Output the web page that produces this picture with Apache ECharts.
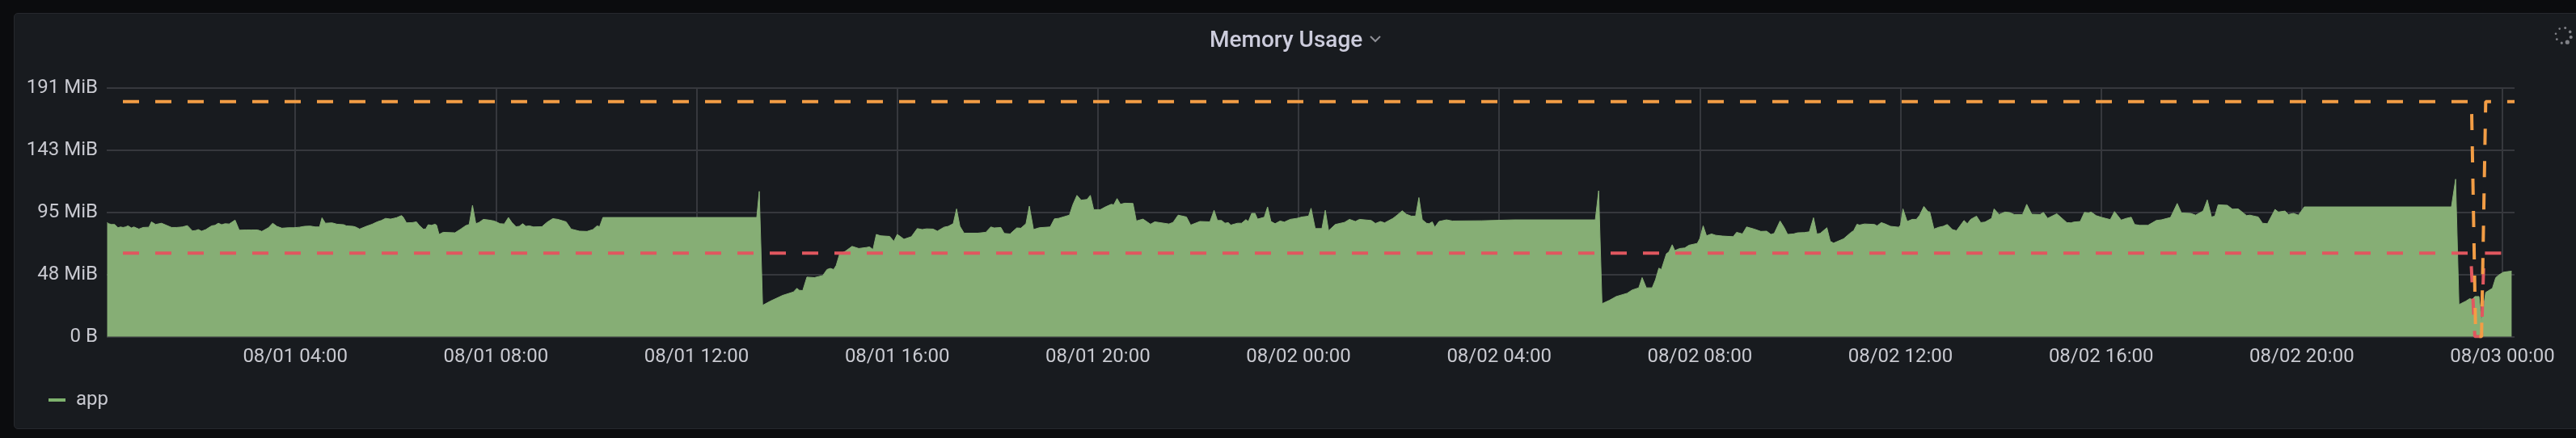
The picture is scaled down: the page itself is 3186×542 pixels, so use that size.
<!DOCTYPE html>
<html>
<head>
<meta charset="utf-8">
<script src="https://cdn.jsdelivr.net/npm/echarts@6/dist/echarts.min.js"></script>
<style>
html,body{margin:0;padding:0;background:#0b0c0e;width:3186px;height:542px;overflow:hidden;}
#panel{position:absolute;left:17px;top:16px;width:3220px;height:515px;background:#181b1f;border:1px solid #26282d;border-radius:5px;box-sizing:border-box;}
#chart{position:absolute;left:0;top:0;width:3186px;height:542px;}
</style>
</head>
<body>
<div id="panel"></div>
<div id="chart"></div>
<script>
// Time is in minutes after 2024-08-01 00:00; memory is in MB (10^6 bytes)
const seriesName = 'app';
const titleText = 'Memory Usage';

const xTickValues = [240, 480, 720, 960, 1200, 1440, 1680, 1920, 2160, 2400, 2640, 2880];
const xTickLabels = ['08/01 04:00', '08/01 08:00', '08/01 12:00', '08/01 16:00', '08/01 20:00', '08/02 00:00',
                     '08/02 04:00', '08/02 08:00', '08/02 12:00', '08/02 16:00', '08/02 20:00', '08/03 00:00'];
const yTickValues = [0, 50, 100, 150, 200];
const yTickLabels = ['0 B', '48 MiB', '95 MiB', '143 MiB', '191 MiB'];

const appUsage = [
  [15,91.6],[17,90.7],[20,90.1],[24,90.1],[28,87.5],[31,88.1],[34,87.7],[37,88.1],[40,89.0],[44,87.3],
  [47,88.1],[53,86.4],[58,87.7],[65,87.9],[68,92.2],[73,90.1],[80,91.1],[86,89.4],[92,87.7],[98,87.7],
  [105,88.1],[111,89.2],[117,84.9],[121,85.3],[124,86.0],[128,84.7],[133,86.0],[140,89.0],[144,89.4],[148,91.1],
  [152,89.9],[156,90.7],[161,90.5],[168,93.6],[173,85.5],[181,85.7],[187,85.7],[195,85.7],[200,84.5],[208,87.5],
  [213,91.1],[218,88.6],[224,87.1],[232,87.5],[238,87.5],[245,87.9],[251,88.6],[258,88.8],[264,88.1],[269,88.1],
  [272,95.5],[276,91.1],[284,91.4],[290,90.3],[298,89.9],[301,89.0],[309,88.6],[312,88.1],[317,86.4],[325,88.6],
  [332,90.3],[338,92.2],[343,93.3],[348,95.0],[354,94.4],[361,95.5],[367,97.2],[369,96.1],[373,91.4],[380,91.6],
  [385,92.2],[388,89.6],[393,86.4],[396,86.4],[399,89.9],[403,89.4],[407,90.3],[409,89.6],[412,82.1],[417,83.8],
  [431,83.4],[438,86.4],[444,89.2],[448,90.1],[452,105.5],[456,90.7],[460,91.8],[465,94.2],[470,93.8],[478,92.9],
  [485,90.7],[490,90.5],
  [495,95.7],[499,91.8],[504,88.3],[508,88.6],[512,90.7],[516,88.6],[520,89.0],[525,88.1],[535,88.3],[541,91.8],
  [548,94.8],[554,94.2],[564,92.2],[570,86.4],[580,84.7],[589,84.5],[596,86.0],[601,89.0],[604,88.3],[608,95.7],
  [792,95.7],[795,116.7],[799,25.1],[808,28.4],[823,33.1],[836,35.9],[840,38.8],[843,37.2],[847,37.0],[852,47.8],
  [861,47.4],[871,49.1],[876,53.9],[880,54.8],[884,53.9],[887,57.2],[891,66.2],[898,68.6],[906,72.5],[914,70.8],
  [923,71.6],[927,72.1],[931,69.9],[935,82.1],[940,81.0],[951,80.5],[956,76.6],[960,82.1],[964,80.3],[968,78.2],
  [977,80.3],[984,86.8],[990,86.0],[995,86.6],[1003,86.4],[1008,84.7],[1016,87.9],[1021,88.6],[1027,90.7],[1031,102.6],
  [1035,88.6],[1040,83.1],[1056,83.1],[1066,83.8],[1072,88.1],[1076,87.3],[1084,87.7],[1088,82.9],[1095,82.5],[1103,87.3],
  [1108,87.1],[1114,90.7],[1118,104.8],[1123,86.0],[1130,87.5],[1143,88.1],[1148,94.6],[1153,95.0],[1166,97.6],[1170,105.9],
  [1175,113.5],[1180,109.6],[1187,110.2],[1191,113.5],[1195,102.0],[1203,102.0],[1209,104.2],[1216,106.3],[1219,105.9],[1223,110.9],
  [1227,106.3],[1232,107.2],[1242,107.0],[1246,92.9],[1254,94.4],[1263,90.3],[1268,92.2],[1285,90.5],[1290,91.8],[1296,97.6],
  [1306,96.1],[1311,89.6],[1322,92.5],[1334,92.2],[1339,101.5],[1343,93.3],[1348,93.3],[1352,91.1],[1356,91.6],[1359,89.6],
  [1367,91.1],[1372,91.1],[1377,94.0],[1380,92.5],[1384,99.0],[1388,99.0],[1391,94.4],[1399,95.9],[1403,104.2],[1407,92.5],
  [1412,90.7],[1418,92.9],[1423,92.0],[1430,94.2],[1438,95.0],
  [1444,96.1],[1452,96.8],[1455,103.1],[1460,86.8],[1468,86.8],[1472,101.5],[1476,85.1],[1484,90.1],[1495,91.8],[1501,94.2],
  [1508,92.5],[1513,94.2],[1527,93.3],[1532,90.9],[1538,92.5],[1543,91.4],[1553,95.0],[1558,97.6],[1564,101.1],[1569,98.3],
  [1575,96.8],[1580,96.8],[1584,111.7],[1588,94.0],[1593,91.1],[1596,90.7],[1600,92.2],[1603,87.9],[1608,92.5],[1617,93.8],
  [1624,92.9],[1659,93.1],[1698,93.8],[1795,93.8],[1799,117.2],[1803,26.4],[1812,29.2],[1820,32.2],[1833,34.8],[1839,37.4],
  [1847,39.2],[1851,47.4],[1856,39.2],[1863,39.2],[1867,45.7],[1871,55.0],[1874,53.9],[1880,66.5],[1883,68.0],[1887,73.8],
  [1890,69.1],[1896,70.8],[1902,71.2],[1907,73.4],[1917,74.9],
  [1920,78.8],[1924,89.0],[1928,81.0],[1934,82.5],[1939,81.4],[1947,80.8],[1960,80.3],[1964,83.8],[1971,82.5],[1976,88.1],
  [1985,86.4],[1993,84.5],[2000,84.7],[2005,82.1],[2009,82.9],[2016,92.9],[2021,87.5],[2025,82.1],[2032,82.5],[2037,83.4],
  [2045,83.6],[2051,84.2],[2056,95.5],[2060,82.5],[2064,82.9],[2072,87.5],[2076,76.6],[2080,75.1],[2092,78.6],[2101,83.8],
  [2104,85.1],[2108,90.3],[2111,89.6],[2117,90.5],[2129,90.1],[2132,89.0],[2137,91.6],[2141,90.7],[2148,88.6],[2158,87.9],
  [2160,89.6],[2163,102.6],[2168,92.5],[2174,94.2],[2179,94.2],[2183,97.6],[2188,104.6],[2193,100.3],[2195,100.3],[2200,86.4],
  [2206,87.9],[2211,88.6],[2216,90.1],[2222,86.0],[2227,85.1],[2236,93.3],[2240,90.7],[2244,94.2],[2251,96.8],[2256,91.6],
  [2261,92.0],[2269,95.0],[2272,102.6],[2278,98.1],[2285,100.1],[2291,99.6],[2296,98.1],[2306,98.1],[2311,106.3],[2317,98.3],
  [2327,98.1],[2331,99.8],[2336,95.0],[2347,98.7],[2359,91.6],[2364,91.4],[2367,92.0],[2375,92.5],[2380,99.8],[2385,99.4],
  [2388,100.1],[2394,97.2],[2401,95.7],
  [2411,94.0],[2416,100.5],[2424,93.6],[2430,95.0],[2436,95.9],[2440,90.1],[2446,89.4],[2456,89.4],[2466,93.3],[2472,93.8],
  [2483,95.7],[2491,107.0],[2496,99.4],[2507,99.0],[2513,97.6],[2522,100.9],[2527,109.8],[2532,96.1],[2536,96.8],[2540,105.9],
  [2551,105.5],[2557,102.4],[2564,102.6],[2570,99.4],[2574,97.2],[2578,97.6],[2583,96.8],[2588,96.1],[2593,91.1],[2599,90.7],
  [2608,102.2],[2612,100.1],[2620,100.9],[2624,98.1],[2630,99.0],[2636,97.6],[2643,104.2],[2819,104.2],[2824,126.5],[2828,25.7],
  [2836,28.4],[2841,30.5],[2844,29.7],[2847,32.2],[2852,32.2],[2855,12.7],[2860,35.5],[2868,38.8],[2872,47.4],[2876,49.6],
  [2881,51.7],[2886,52.2],[2891,52.6]
];

// memory limit (180 MiB) and request (64 MiB), briefly dropping to zero at the restart
const limitUsage = [[14.5,188.74],[2843,188.74],[2848,0],[2855,0],[2860,188.74],[2894.5,188.74]];
const requestUsage = [[14.5,67.11],[2842,67.11],[2847,0],[2855,0],[2858,67.11],[2894.5,67.11]];

const labelColor = '#c8c9d0';
const gridColor = '#36383d';
const font = 'Roboto, "Noto Sans", sans-serif';

const chart = echarts.init(document.getElementById('chart'), null, {renderer: 'canvas'});

const spinnerDots = [
  [3165.7, 35.6, 1.3], [3172.7, 34.6, 1.5], [3178.7, 39.4, 1.8], [3179.7, 46.0, 2.1],
  [3175.3, 52.2, 2.6], [3168.3, 53.2, 1.6], [3162.3, 48.7, 1.4], [3161.0, 41.8, 1.3]
];

chart.setOption({
  backgroundColor: 'transparent',
  animation: false,
  title: {
    text: titleText,
    left: 1491,
    top: 32,
    textStyle: {color: '#ccccdc', fontSize: 28, fontWeight: 500, fontFamily: font}
  },
  graphic: [
    {type: 'polyline', shape: {points: [[1695, 45], [1701, 51], [1707, 45]]},
     style: {stroke: '#8e8f96', lineWidth: 2, fill: null}},
  ].concat(spinnerDots.map(d => ({type: 'circle', shape: {cx: d[0], cy: d[1], r: d[2]}, style: {fill: '#808187'}}))),
  legend: {
    data: [seriesName],
    left: 60,
    top: 483,
    padding: 0,
    icon: 'rect',
    itemWidth: 21,
    itemHeight: 4,
    textStyle: {color: labelColor, fontSize: 24, fontFamily: font, padding: [0, 0, 0, 8]}
  },
  grid: {left: 132, right: 76, top: 108.5, bottom: 125.5, containLabel: false},
  xAxis: {
    type: 'value',
    min: 14.5,
    max: 2894.5,
    axisLine: {show: false},
    axisTick: {show: false, customValues: xTickValues},
    axisLabel: {
      customValues: xTickValues,
      color: labelColor, fontSize: 24, fontFamily: font, margin: 13,
      formatter: v => xTickLabels[xTickValues.indexOf(v)]
    },
    splitLine: {show: true, lineStyle: {color: gridColor, width: 2}}
  },
  yAxis: {
    type: 'value',
    min: 0,
    max: 200,
    interval: 50,
    axisLine: {show: false},
    axisTick: {show: false},
    axisLabel: {
      color: labelColor, fontSize: 24, fontFamily: font, margin: 11,
      formatter: v => yTickLabels[yTickValues.indexOf(v)]
    },
    splitLine: {show: true, lineStyle: {color: gridColor, width: 2}}
  },
  series: [
    {
      name: seriesName,
      type: 'line',
      data: appUsage,
      showSymbol: false,
      silent: true,
      itemStyle: {color: '#7EB26D'},
      lineStyle: {color: '#86AE75', width: 1},
      areaStyle: {color: '#86AE75', opacity: 1},
      z: 2
    },
    {
      name: 'limit',
      type: 'line',
      data: limitUsage,
      showSymbol: false,
      silent: true,
      itemStyle: {color: '#F29D45'},
      lineStyle: {color: '#F29D45', width: 4, type: [20, 20], dashOffset: 20},
      z: 4
    },
    {
      name: 'request',
      type: 'line',
      data: requestUsage,
      showSymbol: false,
      silent: true,
      itemStyle: {color: '#E0575F'},
      lineStyle: {color: '#E0575F', width: 4, type: [20, 20], dashOffset: 20},
      z: 3
    }
  ]
});
</script>
</body>
</html>
